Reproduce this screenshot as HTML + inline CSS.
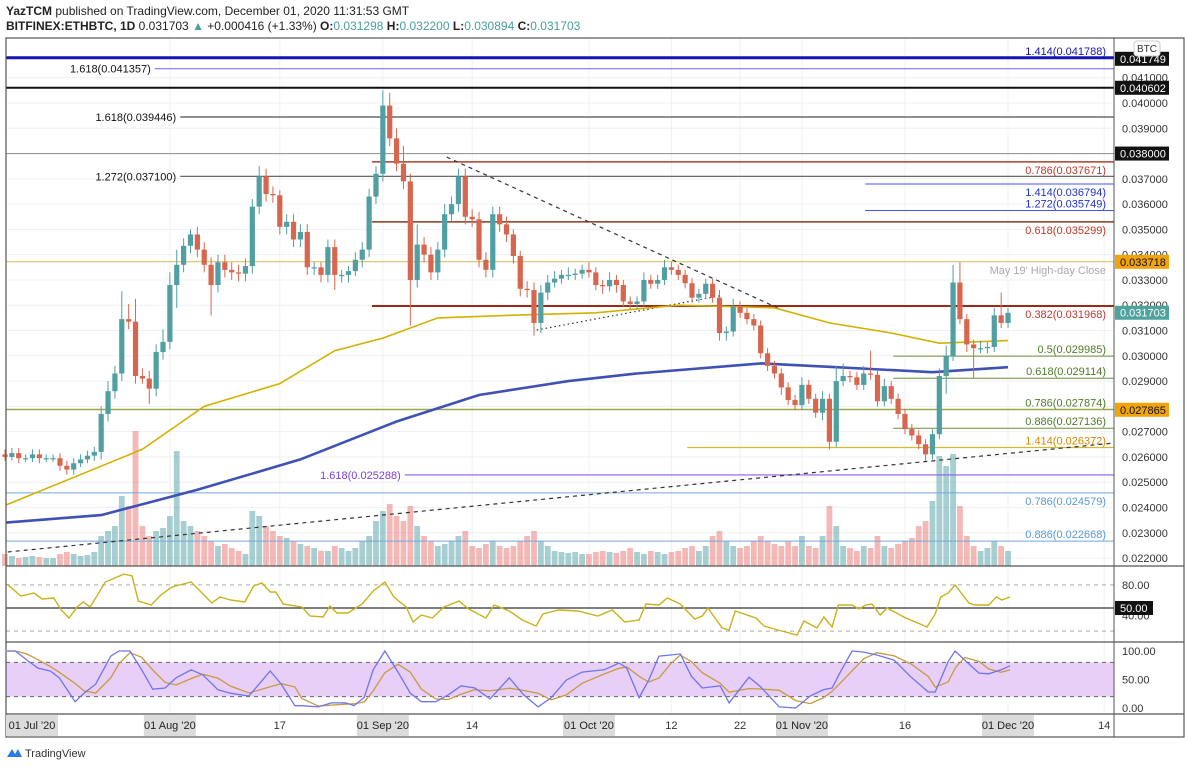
<!DOCTYPE html>
<html><head><meta charset="utf-8">
<style>
html,body{margin:0;padding:0;background:#fff;}
body{width:1185px;height:768px;overflow:hidden;font-family:"Liberation Sans",sans-serif;}
svg text{font-family:"Liberation Sans",sans-serif;}
</style></head>
<body>
<svg id="chart" width="1185" height="768" viewBox="0 0 1185 768" xmlns="http://www.w3.org/2000/svg">
  <text x="6" y="15" font-size="12" fill="#222"><tspan font-weight="bold">YazTCM</tspan> published on TradingView.com, December 01, 2020 11:31:53 GMT</text>
  <text x="6" y="30" font-size="12" fill="#222"><tspan font-weight="bold">BITFINEX:ETHBTC, 1D</tspan> 0.031703 <tspan fill="#4a9e9c">▲</tspan> +0.000416 (+1.33%) <tspan font-weight="bold">O:</tspan><tspan fill="#4a9e9c">0.031298</tspan> <tspan font-weight="bold">H:</tspan><tspan fill="#4a9e9c">0.032200</tspan> <tspan font-weight="bold">L:</tspan><tspan fill="#4a9e9c">0.030894</tspan> <tspan font-weight="bold">C:</tspan><tspan fill="#4a9e9c">0.031703</tspan></text>
  <g id="grid"></g>
  <g id="vol"></g>
  <g id="levels"></g>
  <g id="mas"></g>
  <g id="candles"></g>
  <g id="rsi"></g>
  <g id="stoch"></g>
  <g id="frame">
    <rect x="6" y="38" width="1178" height="699" fill="none" stroke="#555" stroke-width="1.2"/>
    <line x1="1114" y1="38" x2="1114" y2="737" stroke="#555" stroke-width="1"/>
    <line x1="6" y1="566" x2="1184" y2="566" stroke="#555" stroke-width="1.2"/>
    <line x1="6" y1="642" x2="1184" y2="642" stroke="#555" stroke-width="1.2"/>
    <line x1="6" y1="714" x2="1184" y2="714" stroke="#555" stroke-width="1.2"/>
  </g>
  <g id="yaxis"></g>
  <g id="xaxis"></g>
  <g>
    <path d="M7 757 L12 749 L15 754 L18 749 L22 757 Z" fill="#2a7de1"/>
    <text x="25" y="757" font-size="11" fill="#333">TradingView</text>
  </g>
</svg>
<script>
// ---- data (prices in units of 0.001 BTC) ----
const closes = [26.0,26.15,25.95,25.95,26.1,25.95,25.95,25.95,25.65,25.5,25.75,25.9,26.05,26.2,
27.7,28.6,29.3,31.45,31.35,29.2,29.1,28.7,30.15,30.55,
32.8,33.6,34.35,34.8,34.2,33.6,32.8,33.7,33.4,33.3,33.25,33.55,
35.9,37.1,36.4,36.35,35.1,35.3,34.6,34.9,33.5,33.5,33.2,34.3,33.2,33.2,33.35,33.8,34.2,36.3,37.2,
39.9,38.6,37.6,36.9,33.0,34.4,34.0,33.3,34.2,35.6,36.0,
37.1,35.5,35.4,33.8,33.4,35.6,35.2,34.8,33.95,32.65,32.6,31.3,32.5,32.9,33.05,33.2,33.2,33.25,33.4,33.3,32.8,32.75,33.0,32.8,32.15,32.05,32.15,33.0,32.85,33.0,33.5,33.4,33.2,
32.87,32.3,32.45,32.85,32.3,30.9,30.96,31.95,31.7,31.45,31.2,30.1,29.6,29.3,28.75,28.25,28.05,28.85,28.3,27.75,28.3,26.6,
29.0,29.2,29.15,28.85,29.3,29.25,28.2,28.8,28.3,27.7,27.1,26.85,26.5,26.1,26.9,29.2,30.0,32.9,31.45,30.45,30.3,30.3,30.35,31.6,31.3,31.7];
const firstOpen = 26.1;
const wickUp = [0.2,0.2,0.2,0.15,0.2,0.2,0.15,0.15,0.2,0.2,0.2,0.2,0.2,0.2,
0.3,0.4,0.3,1.1,0.6,0.9,0.3,0.3,0.3,0.5,
0.5,0.6,0.3,0.2,0.3,0.3,0.3,0.3,0.3,0.3,0.3,0.3,
0.3,0.4,0.3,0.3,0.2,0.3,0.3,0.3,0.3,0.2,0.2,0.3,0.3,0.2,0.2,0.3,0.3,0.3,0.3,
0.6,0.5,0.4,0.7,0.3,0.8,0.3,0.3,0.3,0.4,0.3,
0.3,0.3,0.3,0.3,0.3,0.3,0.3,0.3,0.2,0.2,0.3,0.3,0.3,0.3,0.3,0.2,0.3,0.2,0.2,0.3,0.2,0.2,0.3,0.2,0.2,0.2,0.2,0.3,0.2,0.2,0.3,0.2,0.2,
0.2,0.2,0.2,0.2,0.2,0.3,0.2,0.3,0.2,0.2,0.2,0.2,0.2,0.2,0.2,0.2,0.2,0.3,0.2,0.2,0.3,0.2,
0.6,0.5,0.2,0.2,0.3,0.9,0.2,0.3,0.2,0.2,0.2,0.2,0.2,0.2,0.2,0.3,0.4,0.7,0.8,0.2,0.2,0.3,0.2,0.3,0.9,0.2];
const wickDn = [0.15,0.15,0.2,0.15,0.15,0.2,0.15,0.15,0.2,0.2,0.2,0.15,0.15,0.2,
0.3,0.3,0.3,0.3,0.3,0.3,0.2,0.6,0.3,0.3,
0.3,0.9,0.3,0.3,0.3,0.3,1.2,0.3,0.3,0.3,0.3,0.3,
0.3,0.3,0.3,0.3,0.3,0.3,0.3,0.3,0.3,0.3,0.3,0.3,0.6,0.3,0.3,0.2,0.3,0.3,0.3,
0.3,0.3,0.3,0.3,1.8,0.3,0.3,0.3,0.3,0.3,0.3,
0.3,0.3,0.3,0.3,0.3,0.3,0.3,0.3,0.3,0.3,0.3,0.5,0.4,0.3,0.2,0.2,0.2,0.2,0.2,0.2,0.2,0.3,0.2,0.3,0.2,0.2,0.2,0.2,0.2,0.2,0.2,0.2,0.2,
0.2,0.2,0.2,0.2,0.2,0.3,0.3,0.2,0.2,0.2,0.2,0.2,0.2,0.2,0.3,0.2,0.2,0.2,0.2,0.2,0.3,0.3,
0.2,0.2,0.2,0.2,0.2,0.2,0.2,0.2,0.2,0.2,0.2,0.2,0.2,0.25,0.2,0.2,0.7,0.2,0.2,0.3,1.2,0.2,0.2,0.2,0.2,0.2];
const volumes = [12,10,8,9,10,9,8,8,12,14,12,10,11,14,
30,35,40,70,60,135,40,30,35,38,
50,115,45,40,35,30,25,20,22,18,15,12,
55,50,40,35,30,28,25,22,20,18,15,15,20,18,15,18,25,30,45,
55,62,50,45,60,40,30,25,20,22,25,
30,35,20,18,22,25,20,18,20,25,30,35,25,20,15,14,13,14,12,12,14,15,14,13,15,18,14,12,15,14,12,14,15,
18,20,15,20,30,35,25,20,18,20,25,30,25,22,20,25,20,30,20,18,30,60,
40,20,18,15,20,18,30,20,18,22,25,28,40,45,65,110,100,112,60,30,20,15,18,25,20,15];
const ma100Day = [-1,20,29,40,48,55,63,73,86,98,112,120,129,136,146];
const ma100Val = [24.1,26.3,28.0,28.9,30.2,30.7,31.5,31.6,31.7,32.0,31.9,31.3,30.9,30.5,30.6];
const ma200Day = [-1,14,28,43,57,69,82,92,110,121,135,146];
const ma200Val = [23.4,23.7,24.7,25.9,27.4,28.45,29.0,29.3,29.7,29.55,29.35,29.55];
const rsiDay = [0.3,2.3,4.2,5.4,7.1,8.2,9.3,10.5,11.4,12.4,14.6,16,17.3,18.5,19.4,21.3,22.7,24.3,27.1,30.1,31.3,32.8,34.9,36.2,37.4,38.6,39.4,40.5,43.2,44.4,46.3,47.3,48.3,49.9,52,53.6,55.3,56.6,58.4,59.4,60.6,62.2,63.9,66.1,67.5,70,71.2,73.4,75.3,77.3,78.3,80.6,83.4,86.3,88.4,90.2,92.3,93.3,95.2,96.4,98.3,100.4,101.5,102.3,104.4,105.4,106.3,109.3,110.5,112.5,115.3,116.3,118.2,119.2,120.4,121.3,123.3,124.3,125.3,126.2,127.4,128.4,131.1,133.2,134.2,135.4,136.2,137.3,138.3,139.3,140.3,141.2,143.2,144.3,145.1,146.3];
const rsiVal = [81,65.6,69.5,61.7,63,47.4,37,51.3,57.8,51.3,83.8,89,94,91.6,59,53.9,66.9,77.3,83.8,56.5,64.3,60.4,57.8,78.6,82.5,70.8,70.8,55.2,51.3,39.6,38.3,52.6,43.5,43.5,55.2,72.1,83.8,64.3,51.3,31.8,40.9,37,51.3,59,48.7,37,53.9,46.1,34.4,26.6,42.2,47.4,46.1,39.6,47.4,31.8,34.4,55.2,53.9,63,55.2,35.7,39.6,50,24,21.4,46.1,37,26.6,21.4,15,33.1,24,38.3,25.3,53.9,53.9,48.7,53.9,55.2,40.9,50,37,29.2,25.3,42.2,64.3,69.5,79.9,68.2,56.5,53.9,53.9,64.3,60.4,64.3];
const stochDay = [0.3,1.5,3.2,4.8,6.6,7.9,10.2,11.5,13.2,15.4,16.6,18.2,19.9,21.5,23.3,24.9,27.1,28.8,31,32.8,35.5,38.6,40.2,42.2,43.2,45.6,47.5,49.6,50.8,52.3,53.6,55.3,57.2,59,60.6,62.7,64.5,66.4,68.4,70.6,73.4,75.5,77.6,79.5,81.7,84,87.2,89.4,90.5,92.3,93.7,95.2,96.9,98.3,99.9,101.5,104.1,105.4,108.3,110,112.7,115.1,117.2,119.1,120.4,121.5,123.3,125,126.9,129.4,131.9,134.4,135.4,137.3,138.3,139.7,141.8,143.2,145,146.3];
const stochK = [100,100,84,70,65,53,11,26,42,91,100,100,67,33,35,53,67,58,32,26,21,65,42,4,4,2,9,9,4,19,67,100,63,26,11,11,23,39,35,16,53,23,2,18,49,63,67,79,70,18,49,91,93,95,56,35,39,9,54,37,2,0,21,32,35,61,100,98,93,84,54,28,28,82,100,84,61,60,67,74];
const priceTicks = [41,40,39,38,37,36,35,34,33,32,31,30,29,28,27,26,25,24,23,22];
const monthLabels = ["01 Jul '20","01 Aug '20","01 Sep '20","01 Oct '20","01 Nov '20","01 Dec '20"];
const monthDays = [-7,24,55,85,116,146];
const dayLabels = ["17","14","12","22","16","14"];
const dayDays = [40,68,97,107,131,160];

// ---- scales ----
const NS = "http://www.w3.org/2000/svg";
function X(i){ return 5 + 6.87*i; }
function Y(p){ return 103 + (40 - p)*25.28; }
function YR(v){ return 608 - (v-50)*0.77; }
function YS(v){ return 708 - v*0.57; }
function VY(v){ return 566 - v; }
function mk(tag, attrs, parent){ const e=document.createElementNS(NS,tag); for(const k in attrs) e.setAttribute(k,attrs[k]); parent.appendChild(e); return e; }
const UP="#4f9fa3", DN="#d7664f";

// grid
const grid=document.getElementById('grid');
priceTicks.forEach(p=>{ const l=mk('line',{x1:6,x2:1114,y1:Y(p),y2:Y(p),stroke:'#eef1f4'},grid);

 });
monthDays.concat(dayDays).forEach(d=>{ const l=mk('line',{x1:X(d),x2:X(d),y1:38,y2:714,stroke:'#eef1f4'},grid);

 });

// candles + volume
const cg=document.getElementById('candles'), vg=document.getElementById('vol');
closes.forEach((c,i)=>{
  const o = i===0 ? firstOpen : closes[i-1];
  const up = c>=o, col = up?UP:DN;
  const hi = Math.max(o,c)+wickUp[i], lo = Math.min(o,c)-wickDn[i];
  const x=X(i);
  const g=mk('g',{},cg);
  
  
  mk('line',{x1:x,x2:x,y1:Y(hi),y2:Y(lo),stroke:col,'stroke-width':1},g);
  const yt=Y(Math.max(o,c)), h=Math.max(1.2,Y(Math.min(o,c))-yt);
  mk('rect',{x:x-2.6,y:yt,width:5.2,height:h,fill:col},g);
  const vb=mk('rect',{x:x-2.9,y:VY(volumes[i]),width:5.8,height:volumes[i],fill:up?'rgba(79,159,163,0.5)':'rgba(230,100,95,0.45)'},vg);
  
  
});

// levels
const levels=[
 {p:41.788,c:'#1515b0',w:3,s:-1,lab:'1.414(0.041788)',side:'r',pos:'a'},
 {p:41.357,c:'#7b5cf0',w:1,s:21.8,lab:'1.618(0.041357)',side:'l'},
 {p:40.602,c:'#111',w:2,s:-1},
 {p:39.446,c:'#222',w:1,s:25.5,lab:'1.618(0.039446)',side:'l'},
 {p:38.0,c:'#999',w:1.2,s:-1},
 {p:37.671,c:'#a8402c',w:1.5,s:53.4,lab:'0.786(0.037671)',side:'r',pos:'b',lc:'#c0392b'},
 {p:37.1,c:'#555',w:1.2,s:25.5,lab:'1.272(0.037100)',side:'l'},
 {p:36.794,c:'#4455ee',w:1,s:125.2,lab:'1.414(0.036794)',side:'r',pos:'b',lc:'#2233cc'},
 {p:35.749,c:'#4455ee',w:1,s:125.2,lab:'1.272(0.035749)',side:'r',pos:'a',lc:'#2233cc'},
 {p:35.299,c:'#8a3a20',w:1.5,s:53.4,lab:'0.618(0.035299)',side:'r',pos:'b',lc:'#c0392b'},
 {p:33.718,c:'#d9b84a',w:1,s:-1,lab:"May 19' High-day Close",side:'r',pos:'b',lc:'#aaa'},
 {p:31.968,c:'#9a2a1a',w:2,s:53.4,lab:'0.382(0.031968)',side:'r',pos:'b',lc:'#c0392b'},
 {p:29.985,c:'#6b8e3a',w:1,s:129.3,lab:'0.5(0.029985)',side:'r',pos:'a',lc:'#4f7a2a'},
 {p:29.114,c:'#6b8e3a',w:1,s:129.3,lab:'0.618(0.029114)',side:'r',pos:'a',lc:'#4f7a2a'},
 {p:27.874,c:'#98a84a',w:1.5,s:-1,lab:'0.786(0.027874)',side:'r',pos:'a',lc:'#4f7a2a'},
 {p:27.136,c:'#6b8e3a',w:1,s:129.3,lab:'0.886(0.027136)',side:'r',pos:'a',lc:'#4f7a2a'},
 {p:26.372,c:'#d4b830',w:1.2,s:99.3,lab:'1.414(0.026372)',side:'r',pos:'a',lc:'#d08a00'},
 {p:25.288,c:'#8a5cf0',w:1.2,s:58.2,lab:'1.618(0.025288)',side:'l',lc:'#7a40e0'},
 {p:24.579,c:'#6fa8e0',w:1,s:-1,lab:'0.786(0.024579)',side:'r',pos:'b',lc:'#5b9bd5'},
 {p:22.668,c:'#6fa8e0',w:1,s:-1,lab:'0.886(0.022668)',side:'r',pos:'a',lc:'#5b9bd5'}
];
const lg=document.getElementById('levels');
levels.forEach(L=>{
  const x1=Math.max(6,X(L.s)), y=Y(L.p);
  const ln=mk('line',{x1:x1,x2:1114,y1:y,y2:y,stroke:L.c,'stroke-width':L.w},lg);
  
  
  if(L.lab){
    let t;
    if(L.side==='l') t=mk('text',{x:x1-4,y:y+4,'font-size':11,'text-anchor':'end',fill:L.lc||'#111'},lg);
    else t=mk('text',{x:1106,y:L.pos==='a'?y-3:y+12,'font-size':11,'text-anchor':'end',fill:L.lc||L.c},lg);
    t.textContent=L.lab;
    
    
  }
});
// trend lines
const trends=[[64.3,37.86,112.5,31.89,'4,4','#333'],[77.4,31.02,104,32.37,'1.5,3','#333'],[0.4,22.24,161.4,26.55,'4,4','#333']];
trends.forEach(t=>{ const l=mk('line',{x1:X(t[0]),y1:Y(t[1]),x2:X(t[2]),y2:Y(t[3]),stroke:t[5],'stroke-width':1.2,'stroke-dasharray':t[4]},lg);

 });

// MAs
const mg=document.getElementById('mas');
function poly(days,vals,fx,fy){ return days.map((d,k)=>Math.max(6,fx(d)).toFixed(1)+','+fy(vals[k]).toFixed(1)).join(' '); }
const m1=mk('polyline',{points:poly(ma100Day,ma100Val,X,Y),fill:'none',stroke:'#d4b000','stroke-width':1.6},mg);


const m2=mk('polyline',{points:poly(ma200Day,ma200Val,X,Y),fill:'none',stroke:'#3f51b5','stroke-width':2.6},mg);



// RSI
const rg=document.getElementById('rsi');
[80,20].forEach(v=>mk('line',{x1:6,x2:1114,y1:YR(v),y2:YR(v),stroke:'#aaa','stroke-dasharray':'4,4'},rg));
mk('line',{x1:6,x2:1114,y1:YR(50),y2:YR(50),stroke:'#333','stroke-width':1.2},rg);
const rl=mk('polyline',{points:poly(rsiDay,rsiVal,X,YR),fill:'none',stroke:'#c9b21a','stroke-width':1.4},rg);



// Stoch
const sg=document.getElementById('stoch');
const band=mk('rect',{x:6,y:YS(80),width:1108,height:YS(20)-YS(80),fill:'#e8cff8'},sg);


[80,20].forEach(v=>mk('line',{x1:6,x2:1114,y1:YS(v),y2:YS(v),stroke:'#666','stroke-dasharray':'4,4'},sg));
const stochD = stochK.map((v,k)=>{ const a=stochK.slice(Math.max(0,k-2),k+1); return a.reduce((s,x)=>s+x,0)/a.length; });
const dl=mk('polyline',{points:poly(stochDay,stochD,X,YS),fill:'none',stroke:'#c89a40','stroke-width':1.3},sg);


const kl=mk('polyline',{points:poly(stochDay,stochK,X,YS),fill:'none',stroke:'#6f74f0','stroke-width':1.3},sg);



// y axis
const ya=document.getElementById('yaxis');
priceTicks.forEach(p=>{ const t=mk('text',{x:1122,y:Y(p)+4,'font-size':11,fill:'#333'},ya); t.textContent=(p/1000).toFixed(6);

 });
[[80,'80.00',YR],[40,'40.00',YR],[100,'100.00',YS],[50,'50.00',YS],[0,'0.00',YS]].forEach(a=>{ const t=mk('text',{x:1122,y:a[2](a[0])+4,'font-size':11,fill:'#333'},ya); t.textContent=a[1];

 });
const tags=[[41.749,'0.041749','#111'],[40.602,'0.040602','#111'],[38.0,'0.038000','#111'],[33.718,'0.033718','#f0a30a'],[31.703,'0.031703','#4fa39e'],[27.865,'0.027865','#f0a30a']];
tags.forEach(tg=>{ const y=Y(tg[0]); const g=mk('g',{},ya);


mk('rect',{x:1115,y:y-7,width:54,height:14,fill:tg[2]},g);
const t=mk('text',{x:1120,y:y+4,'font-size':11,fill:tg[2]==='#f0a30a'?'#111':'#fff'},g); t.textContent=tg[1]; });
const rt=mk('g',{},ya);


mk('rect',{x:1115,y:YR(50)-7,width:38,height:14,fill:'#111'},rt);
const r5=mk('text',{x:1120,y:YR(50)+4,'font-size':11,fill:'#fff'},rt); r5.textContent='50.00';
const btc=mk('g',{},ya);


mk('rect',{x:1134,y:41,width:26,height:15,rx:3,fill:'#fff',stroke:'#ccc'},btc);
const bt=mk('text',{x:1137,y:52,'font-size':10,fill:'#333'},btc); bt.textContent='BTC';

// x axis
const xa=document.getElementById('xaxis');
monthLabels.forEach((s,k)=>{ let cx=X(monthDays[k]); if(cx<32) cx=32;
  const g=mk('g',{},xa);
  
  
  mk('rect',{x:cx-26,y:715,width:52,height:21,fill:'#dcdcdc'},g);
  const t=mk('text',{x:cx,y:729,'font-size':11,'text-anchor':'middle',fill:'#222'},g); t.textContent=s; });
dayLabels.forEach((s,k)=>{ const t=mk('text',{x:X(dayDays[k]),y:729,'font-size':11,'text-anchor':'middle',fill:'#333'},xa); t.textContent=s;

 });
</script>
</body></html>
